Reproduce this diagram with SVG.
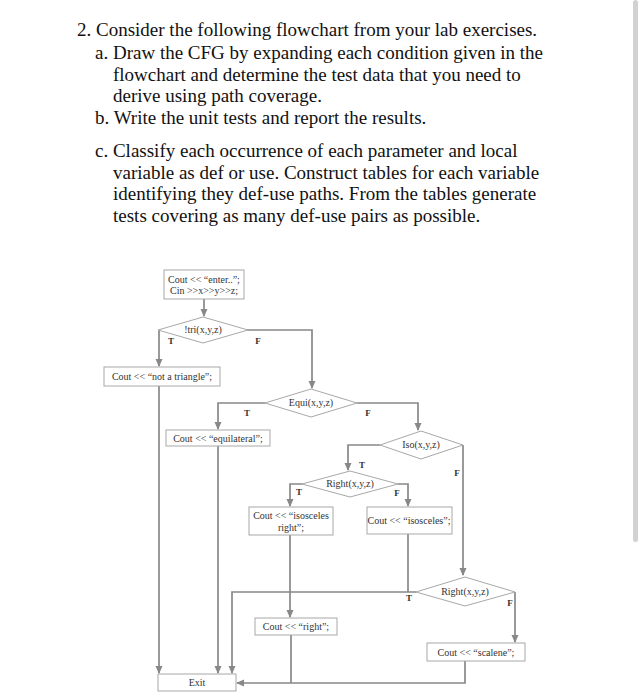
<svg xmlns="http://www.w3.org/2000/svg" width="643" height="700" viewBox="0 0 643 700">
<defs>
<style>
.p{font-family:"Liberation Serif","Times New Roman",serif;font-size:19px;fill:#111}
.t{font-family:"Liberation Serif","Times New Roman",serif;font-size:10px;fill:#333;text-anchor:middle}
.l{font-family:"Liberation Serif","Times New Roman",serif;font-size:9px;fill:#333;text-anchor:middle;font-weight:bold}
.box{fill:#fff;stroke:#a8a8a8;stroke-width:1}
.c{fill:none;stroke:#888;stroke-width:1.7}
</style>
<marker id="ah" markerUnits="userSpaceOnUse" markerWidth="8" markerHeight="8" viewBox="0 0 8 8" refX="7" refY="4" orient="auto">
<path d="M0,0.5 L8,4 L0,7.5 Z" fill="#888"/>
</marker>
</defs>
<rect width="643" height="700" fill="#fff"/>
<rect x="633" y="0" width="5" height="542" rx="2.5" fill="#d2d2d2"/>

<g id="question">
<text class="p" x="77" y="36">2. Consider the following flowchart from your lab exercises.</text>
<text class="p" x="95" y="58.5">a. Draw the CFG by expanding each condition given in the</text>
<text class="p" x="113" y="80.5">flowchart and determine the test data that you need to</text>
<text class="p" x="113" y="102">derive using path coverage.</text>
<text class="p" x="95" y="123.5">b. Write the unit tests and report the results.</text>
<text class="p" x="95" y="157">c. Classify each occurrence of each parameter and local</text>
<text class="p" x="113" y="178.5">variable as def or use. Construct tables for each variable</text>
<text class="p" x="113" y="200">identifying they def-use paths. From the tables generate</text>
<text class="p" x="113" y="222">tests covering as many def-use pairs as possible.</text>
</g>

<g id="connectors">
<path class="c" d="M204 299 V316" marker-end="url(#ah)"/>
<path class="c" d="M159 330 V366" marker-end="url(#ah)"/>
<path class="c" d="M247 330 H312 V388" marker-end="url(#ah)"/>
<path class="c" d="M159 386 V673" marker-end="url(#ah)"/>
<path class="c" d="M265 403 H218 V429" marker-end="url(#ah)"/>
<path class="c" d="M357 403 H418 V430" marker-end="url(#ah)"/>
<path class="c" d="M218 446 V673" marker-end="url(#ah)"/>
<path class="c" d="M380 445 H348 V470" marker-end="url(#ah)"/>
<path class="c" d="M463 445 V575" marker-end="url(#ah)"/>
<path class="c" d="M302 484 H290 V506" marker-end="url(#ah)"/>
<path class="c" d="M398 484 H408 V506" marker-end="url(#ah)"/>
<path class="c" d="M290 535 V617" marker-end="url(#ah)"/>
<path class="c" d="M408 534 V592"/>
<path class="c" d="M416 592 H232 V673" marker-end="url(#ah)"/>
<path class="c" d="M515 592 V642" marker-end="url(#ah)"/>
<path class="c" d="M291 635 V683"/>
<path class="c" d="M465 661 V683 H237" marker-end="url(#ah)"/>
<g class="l">
<text x="171" y="344">T</text>
<text x="258" y="344">F</text>
<text x="247" y="416">T</text>
<text x="368" y="416">F</text>
<text x="362" y="468">T</text>
<text x="457" y="476">F</text>
<text x="299" y="495">T</text>
<text x="397" y="496">F</text>
<text x="409" y="601">T</text>
<text x="510" y="606">F</text>
</g>
</g>

<g id="start">
<rect class="box" x="164" y="270" width="80" height="29"/>
<text class="t" x="204" y="283">Cout &lt;&lt; “enter..”;</text>
<text class="t" x="204" y="294">Cin &gt;&gt;x&gt;&gt;y&gt;&gt;z;</text>
</g>
<g id="tri">
<polygon class="box" points="203,317 248,330 203,343 158,330"/>
<text class="t" x="203" y="333">!tri(x,y,z)</text>
</g>
<g id="not-triangle">
<rect class="box" x="104" y="367" width="116" height="19"/>
<text class="t" x="162" y="380">Cout &lt;&lt; “not a triangle”;</text>
</g>
<g id="equi">
<polygon class="box" points="311,389 357,403 311,417 265,403"/>
<text class="t" x="311" y="406">Equi(x,y,z)</text>
</g>
<g id="equilateral">
<rect class="box" x="166" y="430" width="104" height="16"/>
<text class="t" x="218" y="441.5">Cout &lt;&lt; “equilateral”;</text>
</g>
<g id="iso">
<polygon class="box" points="421,431 463,445 421,459 380,445"/>
<text class="t" x="421" y="448">Iso(x,y,z)</text>
</g>
<g id="right1">
<polygon class="box" points="350,471 398,484 350,497 302,484"/>
<text class="t" x="350" y="487">Right(x,y,z)</text>
</g>
<g id="isosceles-right">
<rect class="box" x="249" y="507" width="84" height="28"/>
<text class="t" x="291" y="519">Cout &lt;&lt; “isosceles</text>
<text class="t" x="291" y="531">right”;</text>
</g>
<g id="isosceles">
<rect class="box" x="367" y="507" width="85" height="27"/>
<text class="t" x="409" y="524">Cout &lt;&lt; “isosceles”;</text>
</g>
<g id="right2">
<polygon class="box" points="465,577 515,592 465,606 416,592"/>
<text class="t" x="465" y="595">Right(x,y,z)</text>
</g>
<g id="right">
<rect class="box" x="255" y="618" width="82" height="17"/>
<text class="t" x="296" y="630">Cout &lt;&lt; “right”;</text>
</g>
<g id="scalene">
<rect class="box" x="427" y="643" width="98" height="18"/>
<text class="t" x="476" y="655.5">Cout &lt;&lt; “scalene”;</text>
</g>
<g id="exit">
<rect class="box" x="158" y="674" width="78" height="17"/>
<text class="t" x="197" y="686">Exit</text>
</g>
</svg>
